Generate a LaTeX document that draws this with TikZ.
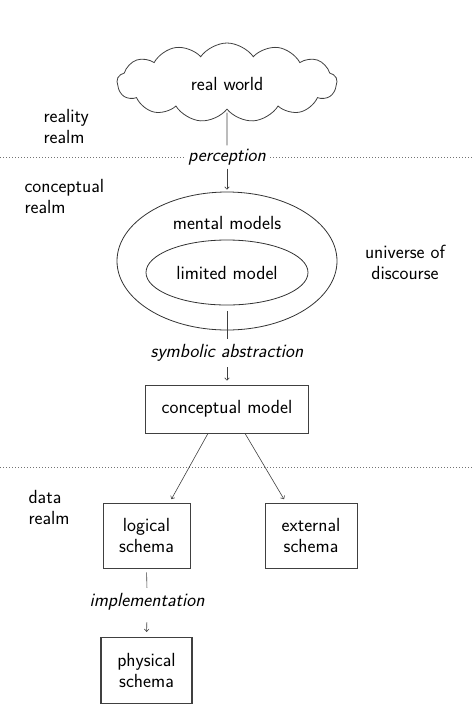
\documentclass[tikz,border=0pt]{standalone}
\usetikzlibrary{shapes.symbols,shapes.geometric,arrows.meta}
\begin{document}
\begin{tikzpicture}[x=1pt,y=-1pt,
  every node/.style={font=\fontsize{19}{21}\selectfont\sffamily},
  box/.style={draw=black!75,line width=0.8pt,align=center,inner sep=0pt},
  realm/.style={align=left,anchor=west},
  lbl/.style={font=\fontsize{19}{21}\selectfont\sffamily\itshape,fill=white,inner sep=3.5pt},
  conn/.style={draw=black!75,line width=0.6pt},
  arr/.style={conn,-{To[length=3pt,width=5pt]}},
  sep/.style={draw=black!55,line width=0.8pt,dash pattern=on 0.8pt off 2.2pt}]
\useasboundingbox (0,0) rectangle (474,705);
% separators
\draw[sep] (0,157) -- (474,157);
\draw[sep] (0,467) -- (474,467);
% cloud
\node[cloud,draw=black!75,line width=0.8pt,cloud puffs=13,cloud puff arc=110,aspect=2.8,
  minimum width=220pt,minimum height=79pt,inner sep=0pt] (rw) at (227,82.5) {};
\node (rwt) at (227,84) {real world};
% realms
\node[realm] (rr) at (40,126) {reality\\realm};
\node[realm] (cr) at (21,196.5) {conceptual\\realm};
\node[realm] (dr) at (25,507.5) {data\\realm};
\node[align=center] (ud) at (405,262.5) {universe of\\discourse};
% perception
\node[lbl] (perc) at (227,157) {perception};
% ellipses
\node[ellipse,draw=black!80,line width=0.8pt,minimum width=220pt,minimum height=138pt,inner sep=0pt] (mm) at (227,261) {};
\node (mmt) at (227,223) {mental models};
\node[ellipse,draw=black!80,line width=0.8pt,minimum width=162pt,minimum height=65pt,inner sep=0pt] (lm) at (227,272.5) {};
\node (lmt) at (227,273) {limited model};
% symbolic abstraction
\node[lbl] (sa) at (227,353) {symbolic abstraction};
% conceptual model
\node[box,minimum width=163pt,minimum height=48pt] (cm) at (227,409) {conceptual model};
% schemas
\node[box,minimum width=87pt,minimum height=65pt] (ls) at (146.5,535.5) {logical\\schema};
\node[box,minimum width=92pt,minimum height=65pt] (es) at (311,535.5) {external\\schema};
\node[lbl] (impl) at (147,602) {implementation};
\node[box,line width=1.4pt,minimum width=91pt,minimum height=66pt] (ps) at (146.5,670.5) {physical\\schema};
% connectors
\draw[conn] ([yshift=-3pt]rw.south) -- (perc.north);
\draw[arr,shorten >=2pt] (perc.south) -- (mm.north);
\draw[conn,shorten >=2pt] ([yshift=-6pt]lm.south) -- (sa.north);
\draw[arr,shorten >=4pt,shorten <=2pt] (sa.south) -- (cm.north);
\draw[arr,shorten >=4pt] ([xshift=-19pt]cm.south) -- ([xshift=23pt]ls.north);
\draw[arr,shorten >=4pt] ([xshift=18pt]cm.south) -- ([xshift=-25pt]es.north);
\draw[conn,shorten <=4pt,shorten >=2pt] (ls.south) -- (impl.north);
\draw[arr,shorten >=5pt,shorten <=8pt] (impl.south) -- (ps.north);
\end{tikzpicture}
\end{document}
